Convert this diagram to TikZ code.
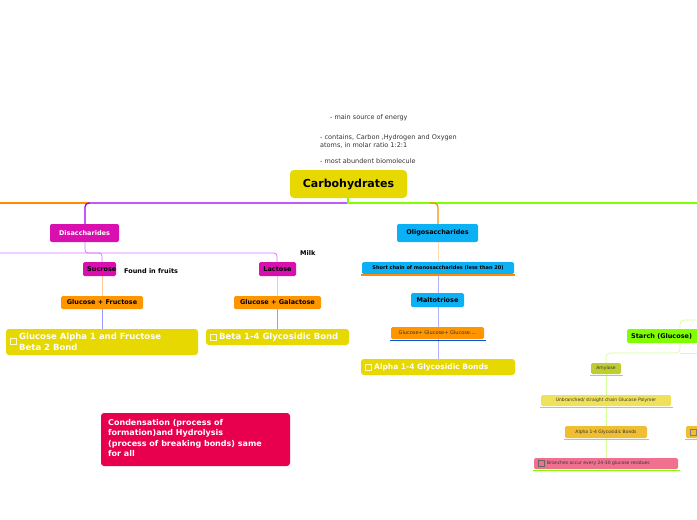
\documentclass[tikz,border=0pt]{standalone}
\usepackage{fontspec}
\setmainfont{DejaVu Sans}
\begin{document}
\begin{tikzpicture}[x=1pt,y=-1pt,
 bx/.style={rounded corners=2pt,inner sep=0pt,font=\bfseries},
 lbl/.style={anchor=west,inner sep=0pt,font=\fontsize{6.5}{8}\selectfont,text=black!80},
 cb/.style={draw=white!80!yellow,line width=0.5pt}]
\useasboundingbox (0,0) rectangle (697,520);
\clip (0,0) rectangle (697,520);
% notes
\node[lbl] (n1) at (330,118) {- main source of energy};
\node[lbl,align=left] (n2) at (320,141) {- contains, Carbon ,Hydrogen and Oxygen\\atoms, in molar ratio 1:2:1};
\node[lbl] (n3) at (320,161) {- most abundent biomolecule};
% main connectors
\draw[orange!90!yellow,line width=1.3pt] (0,203) -- (90,203);
\draw[violet!60!magenta!90!blue,line width=1.3pt,color={rgb,255:red,160;green,0;blue,240}] (348,203) -- (90,203) [rounded corners=4pt] -- (85,203) -- (85,226);
\draw[color={rgb,255:red,128;green,255;blue,0},line width=1.3pt] (348,198) -- (348,203) -- (697,203);
\draw[orange!90!yellow,line width=1.3pt,rounded corners=4pt] (430,203) -- (438,203) -- (438,226);
% Carbohydrates
\fill[color={rgb,255:red,230;green,216;blue,0},rounded corners=4pt] (290,170) rectangle (407,198);
\node[font=\bfseries\fontsize{11}{13}\selectfont] (carb) at (348.5,185) {Carbohydrates};
% Disaccharides branch
\draw[color={rgb,255:red,210;green,120;blue,255},line width=0.7pt,rounded corners=3pt] (0,253) -- (277,253) -- (277,264);
\draw[color={rgb,255:red,210;green,120;blue,255},line width=0.7pt,rounded corners=3pt] (85,240) -- (85,253) -- (102,253) -- (102,264);
\fill[color={rgb,255:red,217;green,15;blue,176},rounded corners=2pt] (50,224) rectangle (119,242);
\node[font=\bfseries\fontsize{6.5}{8}\selectfont,text=white] (dis) at (84.5,233) {Disaccharides};
\draw[orange!40,line width=0.7pt] (102,276) -- (102,297);
\draw[orange!40,line width=0.7pt] (277,276) -- (277,297);
\draw[blue!40,line width=0.7pt] (102,309) -- (102,330);
\draw[blue!40,line width=0.7pt] (277,309) -- (277,330);
\fill[color={rgb,255:red,217;green,15;blue,176},rounded corners=1.5pt] (83,262) rectangle (116,276);
\begin{scope}\clip (83,262) rectangle (116,276);
\node[anchor=west,inner sep=0pt,font=\bfseries\fontsize{6.5}{8}\selectfont] (suc) at (87,269.5) {Sucrose};
\end{scope}
\node[lbl,font=\bfseries\fontsize{6.5}{8}\selectfont,text=black] (fr) at (124,271.5) {Found in fruits};
\node[lbl,font=\bfseries\fontsize{6.5}{8}\selectfont,text=black] (milk) at (300,253) {Milk};
\fill[color={rgb,255:red,217;green,15;blue,176},rounded corners=1.5pt] (259,262) rectangle (296,276);
\node[font=\bfseries\fontsize{6.5}{8}\selectfont] (lac) at (277.5,269.5) {Lactose};
\fill[color={rgb,255:red,255;green,150;blue,0},rounded corners=1.5pt] (61,296) rectangle (143,309);
\node[font=\bfseries\fontsize{6.5}{8}\selectfont] (gf) at (102,302.5) {Glucose + Fructose};
\fill[color={rgb,255:red,255;green,150;blue,0},rounded corners=1.5pt] (234,296) rectangle (321,309);
\node[font=\bfseries\fontsize{6.5}{8}\selectfont] (gg) at (277.5,302.5) {Glucose + Galactose};
\fill[color={rgb,255:red,230;green,216;blue,0},rounded corners=3pt] (6,329) rectangle (198,355);
\draw[cb] (10,338.5) rectangle (16,344.5);
\node[anchor=north west,inner sep=0pt,align=left,text=white,font=\bfseries\fontsize{8.5}{11}\selectfont] (ga) at (19,333) {Glucose Alpha 1 and Fructose\\Beta 2 Bond};
\fill[color={rgb,255:red,230;green,216;blue,0},rounded corners=3pt] (206,329) rectangle (349,345);
\draw[cb] (210,334) rectangle (216,340);
\node[anchor=west,inner sep=0pt,text=white,font=\bfseries\fontsize{8.5}{11}\selectfont] (b14) at (219,337.5) {Beta 1-4 Glycosidic Bond};
% Oligosaccharides branch
\draw[orange!30,line width=0.7pt] (438,242) -- (438,263);
\draw[blue!30,line width=0.7pt] (438,275) -- (438,360);
\fill[color={rgb,255:red,11;green,176;blue,245},rounded corners=2pt] (397,224) rectangle (478,242);
\node[font=\bfseries\fontsize{6.5}{8}\selectfont] (oli) at (437.5,233) {Oligosaccharides};
\fill[color={rgb,255:red,11;green,176;blue,245},rounded corners=1.5pt] (362,262) rectangle (514,274);
\draw[color={rgb,255:red,255;green,140;blue,0},line width=1.6pt] (361,275) -- (515,275);
\node[font=\bfseries\fontsize{5}{6}\selectfont] (sc) at (438,268) {Short chain of monosaccharides (less than 20)};
\fill[color={rgb,255:red,11;green,176;blue,245},rounded corners=1.5pt] (411,293) rectangle (464,307);
\node[font=\bfseries\fontsize{6.5}{8}\selectfont] (mal) at (437.5,300) {Maltotriose};
\fill[color={rgb,255:red,255;green,150;blue,0},rounded corners=1.5pt] (391,327) rectangle (484,339);
\draw[color={rgb,255:red,0;green,80;blue,240},line width=1.6pt] (390,340.5) -- (486,340.5);
\node[font=\fontsize{5}{6}\selectfont,text=black!80] (ggg) at (437.5,333) {Glucose+ Glucose+ Glucose....};
\fill[color={rgb,255:red,230;green,216;blue,0},rounded corners=3pt] (361,359) rectangle (515,375);
\draw[cb] (365,364) rectangle (371,370);
\node[anchor=west,inner sep=0pt,text=white,font=\bfseries\fontsize{7.5}{9}\selectfont] (a14) at (374,367) {Alpha 1-4 Glycosidic Bonds};
% Condensation
\fill[color={rgb,255:red,232;green,0;blue,79},rounded corners=3pt] (101,413) rectangle (290,466);
\node[anchor=north west,inner sep=0pt,align=left,text=white,font=\bfseries\fontsize{8}{10.5}\selectfont] (con) at (108,419) {Condensation (process of\\formation)and Hydrolysis\\(process of breaking bonds) same\\for all};
% Starch branch
\draw[color={rgb,255:red,210;green,255;blue,150},line width=0.7pt,rounded corners=4pt] (680,330) -- (680,320) -- (697,320);
\draw[color={rgb,255:red,210;green,255;blue,150},line width=0.7pt,rounded corners=4pt] (680,343) -- (680,353) -- (606,353) -- (606,365);
\draw[color={rgb,255:red,210;green,255;blue,150},line width=0.7pt] (606,374) -- (606,460);
\draw[color={rgb,255:red,210;green,255;blue,150},line width=0.7pt,rounded corners=4pt] (680,353) -- (697,353);
\fill[color={rgb,255:red,128;green,255;blue,0},rounded corners=2pt] (627,329) rectangle (705,343);
\node[anchor=west,inner sep=0pt,font=\bfseries\fontsize{6.5}{8}\selectfont] (sta) at (631,336) {Starch (Glucose)};
\fill[color={rgb,255:red,190;green,205;blue,50},rounded corners=1.5pt] (591,363) rectangle (621,374);
\draw[color={rgb,255:red,128;green,255;blue,0},line width=1.6pt] (590,375.5) -- (623,375.5);
\node[font=\fontsize{4.5}{5}\selectfont,text=black!80] (amy) at (606,368.5) {Amylose};
\fill[color={rgb,255:red,240;green,225;blue,90},rounded corners=1.5pt] (541,395) rectangle (671,406);
\draw[color={rgb,255:red,128;green,255;blue,0},line width=1.6pt] (540,407.5) -- (673,407.5);
\node[font=\fontsize{4.5}{5}\selectfont,text=black!80] (unb) at (606,400.5) {Unbranched/ straight chain Glucose Polymer};
\fill[color={rgb,255:red,240;green,190;blue,50},rounded corners=1.5pt] (565,426) rectangle (647,438);
\draw[color={rgb,255:red,128;green,255;blue,0},line width=1.6pt] (564,439.5) -- (649,439.5);
\node[font=\fontsize{4.5}{5}\selectfont,text=black!80] (a14b) at (606,432) {Alpha 1-4 Glycosidic Bonds};
\fill[color={rgb,255:red,240;green,190;blue,50},rounded corners=1.5pt] (686,426) rectangle (705,438);
\draw[color={rgb,255:red,128;green,255;blue,0},line width=1.6pt] (685,439.5) -- (697,439.5);
\draw[black!50,line width=0.4pt] (690,429) rectangle (696,435);
\fill[color={rgb,255:red,240;green,112;blue,144},rounded corners=1.5pt] (534,458) rectangle (678,469);
\draw[color={rgb,255:red,128;green,255;blue,0},line width=1.6pt] (533,470.5) -- (680,470.5);
\draw[black!60,line width=0.4pt] (538,460.5) rectangle (544,466.5);
\node[anchor=west,inner sep=0pt,font=\fontsize{4.5}{5}\selectfont,text=black!80] (br) at (547,463.5) {Branches occur every 24-30 glucose residues};
\end{tikzpicture}
\end{document}
